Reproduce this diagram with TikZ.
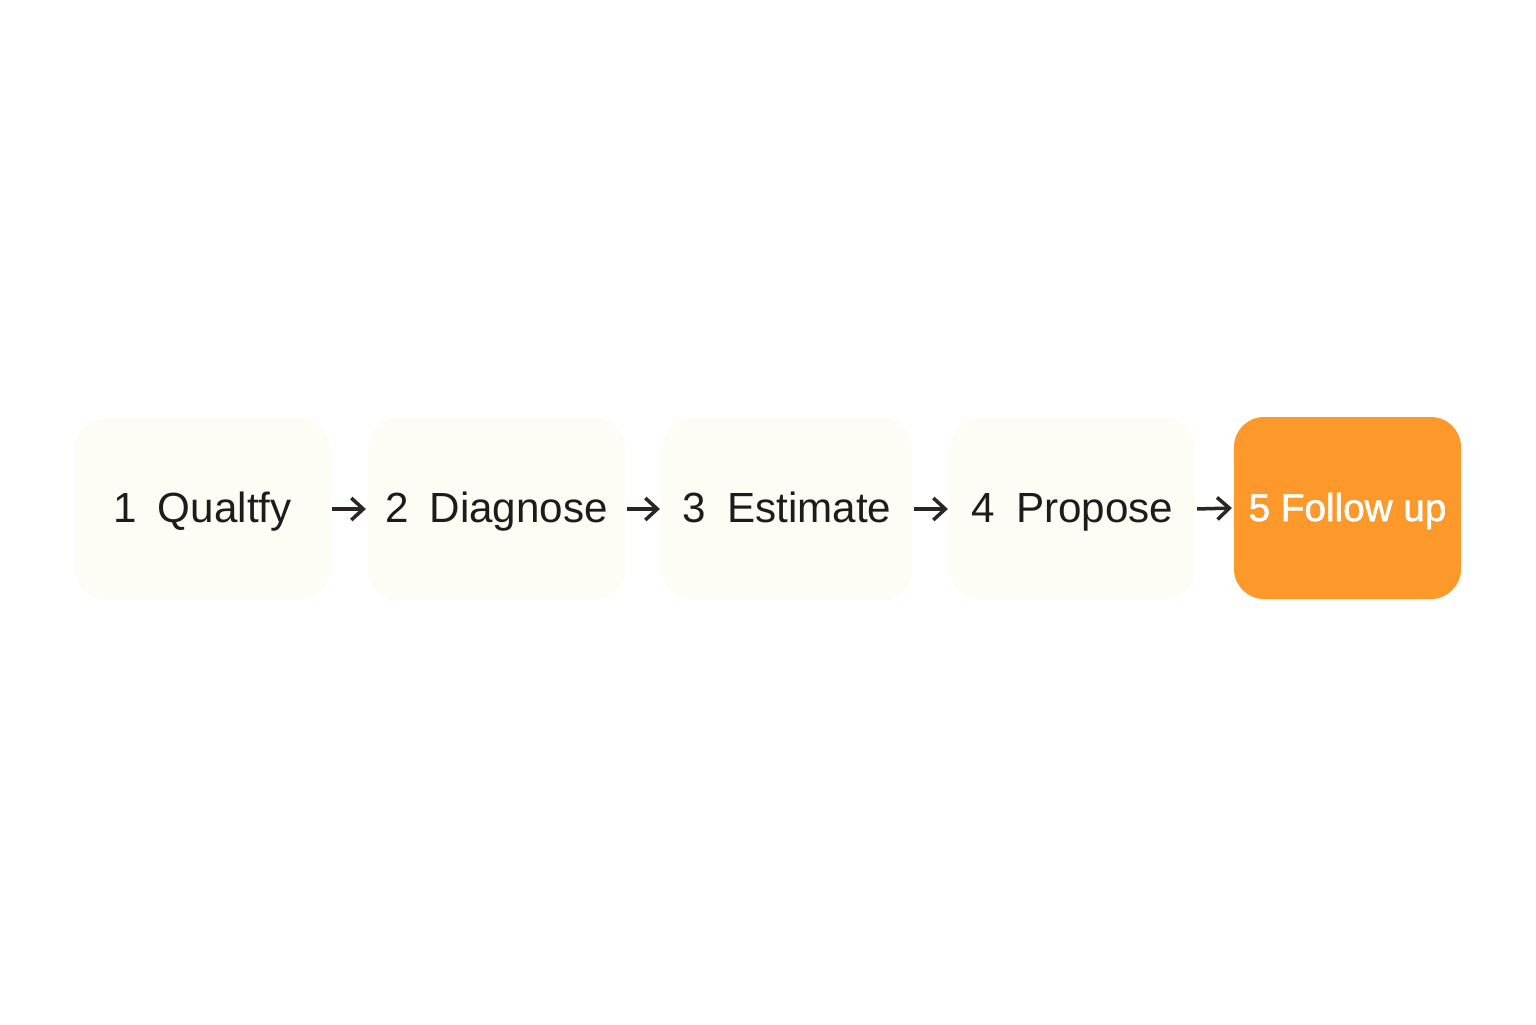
\documentclass[tikz,border=0pt]{standalone}
\usepackage{fontspec}
\setmainfont{Liberation Sans}
\newfontfamily\semifont[FakeBold=1.6]{Liberation Sans}
\usetikzlibrary{arrows.meta,positioning}
\definecolor{ink}{HTML}{1C1C1C}
\definecolor{arrowink}{HTML}{2B2623}
\definecolor{cream}{HTML}{FDFDF6}
\definecolor{accent}{HTML}{FD982A}
\tikzset{
  stepcard/.style={rectangle,rounded corners=0.6cm,fill=cream,draw=none,minimum height=3.64cm,
                   text=ink,font=\fontsize{24}{28}\selectfont,inner sep=0pt,
                   text height=0.62cm,text depth=0.1cm},
  lastcard/.style={stepcard,fill=accent,text=white,font=\semifont\fontsize{22}{26}\selectfont},
  flowarr/.style={-{Straight Barb[length=2.4mm,width=4.4mm,line width=2pt]},line width=2pt,
                  draw=arrowink,shorten <=1pt,shorten >=1pt},
}

\begin{document}
\begin{tikzpicture}
  \useasboundingbox (0,0) rectangle (30.72,-20.48);

  % ---------------------------------------------------------------- steps
  \node[stepcard,minimum width=5.1cm]  (qual) at (4.05,-10.18)  {1\enspace Qualtfy};
  \node[stepcard,minimum width=5.14cm] (diag) at (9.93,-10.18)  {2\enspace Diagnose};
  \node[stepcard,minimum width=5.0cm]  (est)  at (15.74,-10.18) {3\enspace Estimate};
  \node[stepcard,minimum width=4.9cm]  (prop) at (21.45,-10.18) {4\enspace Propose};
  \node[lastcard,minimum width=4.54cm] (foll) at (26.95,-10.16) {5 Follow up};

  % ---------------------------------------------------------------- arrows
  \draw[flowarr] (qual.east) -- (diag.west);
  \draw[flowarr] (diag.east) -- (est.west);
  \draw[flowarr] (est.east)  -- (prop.west);
  \draw[flowarr] (prop.east) -- (foll.west);
\end{tikzpicture}
\end{document}
